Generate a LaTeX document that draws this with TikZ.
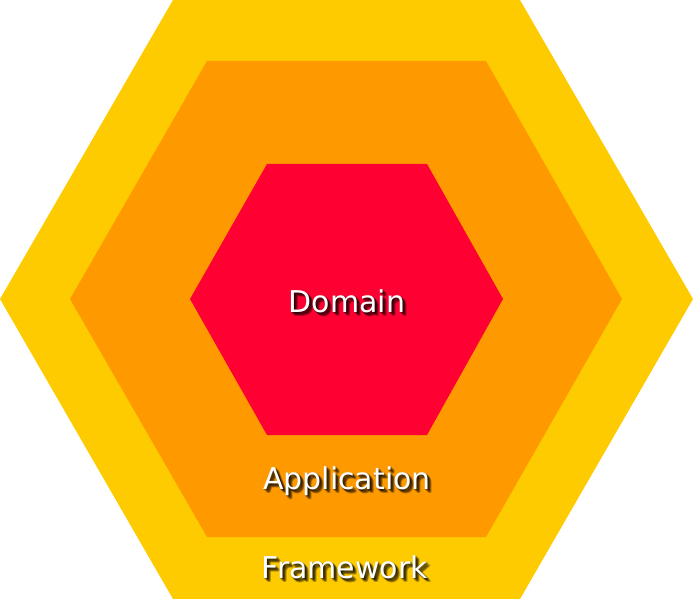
\documentclass[tikz,border=0pt]{standalone}
\usepackage{fontspec}
\setmainfont{DejaVu Sans}
\definecolor{fwcol}{HTML}{FECB00}
\definecolor{appcol}{HTML}{FE9A00}
\definecolor{domcol}{HTML}{FF0033}
\begin{document}
\begin{tikzpicture}[x=0.75pt,y=-0.75pt,
  lbl/.style={text=white,font=\fontsize{22.5}{27}\selectfont,inner sep=0pt},
  shd/.style={text=black,opacity=0.16,font=\fontsize{22.5}{27}\selectfont,inner sep=0pt}]
\useasboundingbox (0,0) rectangle (693,599);
\fill[fwcol] (0,299) -- (173,0) -- (520,0) -- (693,299) -- (520,599) -- (173,599) -- cycle;
\fill[appcol] (70,299) -- (207,61) -- (486,61) -- (622,299) -- (486,537) -- (207,537) -- cycle;
\fill[domcol] (190,299) -- (267,164) -- (427,164) -- (503,299) -- (427,435) -- (267,435) -- cycle;
\foreach \t/\x/\y/\n in {Domain/347/301/dom,Application/347/481/app,Framework/345/567/fw}{
  \foreach \dx/\dy in {0/1,1/0,1/1,2/2,3/3,2/3,3/2,1/2,2/1,3/4,4/3,4/4}{
    \node[shd] at (\x+\dx,\y+\dy) {\t};
  }
  \node[lbl] (\n) at (\x,\y) {\t};
}
\end{tikzpicture}
\end{document}
